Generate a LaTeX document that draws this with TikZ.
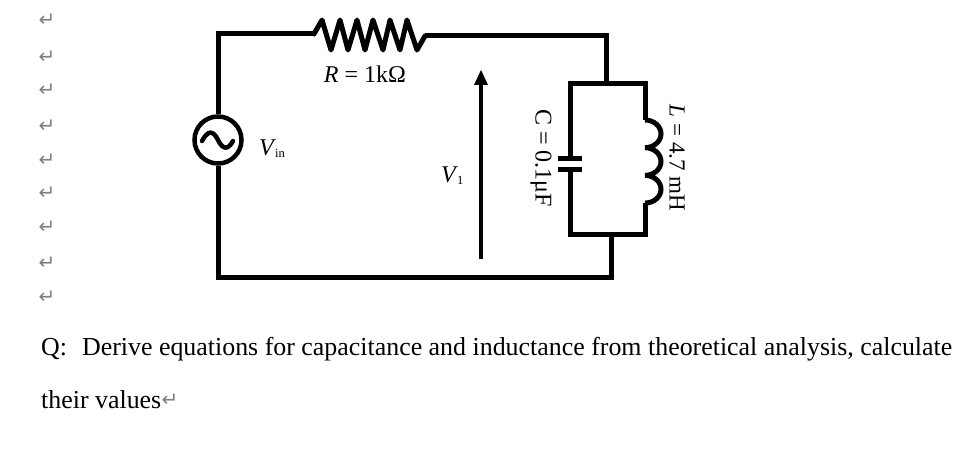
\documentclass[tikz,border=0pt]{standalone}
\usepackage{fontspec}
\setmainfont{Liberation Serif}
\newfontfamily\symfont{DejaVu Sans}
\tikzset{
  wire/.style={line width=5pt,line join=miter,line cap=butt,black},
  thin wire/.style={line width=5pt,line join=round,line cap=round,black},
  lbl/.style={inner sep=0pt,font=\fontsize{24}{26}\selectfont},
  para/.style={inner sep=0pt,text=black!50,font=\fontsize{20}{20}\selectfont\symfont},
  body/.style={inner sep=0pt,anchor=base west,font=\fontsize{25.9}{28}\selectfont},
}
\newcommand{\subtxt}[1]{\raisebox{-2pt}{\fontsize{12.5}{12.5}\selectfont #1}}
\begin{document}
\begin{tikzpicture}[x=1pt,y=-1pt]
\useasboundingbox (0,0) rectangle (970,454);
\fill[white] (0,0) rectangle (970,454);
% coordinates
\coordinate (tl) at (218,34);
\coordinate (rl) at (314,34);
\coordinate (rr) at (425,36);
\coordinate (tr) at (606,36);
\coordinate (jt) at (606,82);
\coordinate (jb) at (611,235);
\coordinate (bl) at (218,278);
\coordinate (br) at (611,278);
\coordinate (boxtl) at (570,84);
\coordinate (boxtr) at (645,84);
\coordinate (boxbl) at (570,235);
\coordinate (boxbr) at (645,235);
\coordinate (ct) at (570,159);
\coordinate (cb) at (570,170);
\coordinate (lt) at (645,120);
\coordinate (lb) at (645,203);
\coordinate (atail) at (481,259);
\coordinate (ahead) at (481,70);
% source
\node[circle,draw,line width=4.5pt,minimum size=47pt,inner sep=0pt] (src) at (218,140) {};
\draw[line width=4.5pt,line cap=round] (202,141) .. controls (208,130) and (213,130) .. (218,140) .. controls (223,150) and (228,150) .. (233,141);
% wires
\draw[wire] (src.north) -- (tl) -- (rl);
\draw[wire] (rr) -- (tr) -- (jt);
\draw[wire] (src.south) -- (bl) -- (br) -- (jb);
% resistor
\draw[thin wire] (rl) -- (322,20) -- (331,50) -- (340,20) -- (348,50) -- (357,20) -- (365,50) -- (373,20) -- (383,50) -- (390,20) -- (400,50) -- (407,20) -- (417,50) -- (rr);
% tank
\draw[wire] (ct) -- (boxtl) -- (boxtr) -- (lt);
\draw[wire] (cb) -- (boxbl) -- (boxbr) -- (lb);
\draw[wire] (558,159) -- (582,159);
\draw[wire] (558,170) -- (582,170);
% inductor
\draw[wire] (lt) arc[start angle=-90,end angle=90,x radius=16,y radius=13.84]
  arc[start angle=-90,end angle=90,x radius=16,y radius=13.84]
  arc[start angle=-90,end angle=90,x radius=16,y radius=13.84];
% arrow
\draw[wire,line width=4.5pt] (atail) -- (481,84);
\fill (ahead) -- (488,85) -- (474,85) -- cycle;
% labels
\node[lbl] (rlab) at (365,74) {\textit{R} = 1kΩ};
\node[lbl,anchor=base west] (vin) at (259,156) {\textit{V}\kern-1pt\subtxt{in}};
\node[lbl,anchor=base west] (vone) at (441,183) {\textit{V}\kern-1pt\subtxt{1}};
\node[lbl,rotate=-90] (clab) at (541,158) {C = 0.1μF};
\node[lbl,rotate=-90,font=\fontsize{23}{26}\selectfont] (llab) at (677,158) {\textit{L} = 4.7 mH};
% paragraph marks
\foreach \i/\y in {1/20,2/57,3/90,4/126,5/160,6/193,7/227,8/263,9/297}
  \node[para] (p\i) at (47,\y) {↵};
\node[para] (p10) at (170,400) {↵};
% text
\node[body] (q) at (41,356) {Q:\hspace{15pt}Derive equations for capacitance and inductance from theoretical analysis, calculate};
\node[body] (t) at (41,409) {their values};
\end{tikzpicture}
\end{document}
